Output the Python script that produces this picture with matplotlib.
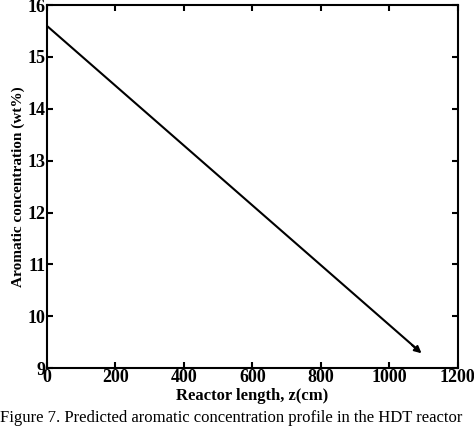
import matplotlib
matplotlib.use("Agg")
import matplotlib.pyplot as plt

# reactor length (cm) and aromatic concentration (wt%)
z = [0, 1100]
aromatic = [15.6, 9.25]
x_ticks = [0, 200, 400, 600, 800, 1000, 1200]
y_ticks = [9, 10, 11, 12, 13, 14, 15, 16]

plt.rcParams['font.family'] = ['Liberation Serif', 'DejaVu Serif']

fig = plt.figure(figsize=(4.74, 4.28), dpi=100)
ax = fig.add_axes([0.099, 0.140, 0.867, 0.848])

ax.plot(z[:1] + [z[1] - 15], [aromatic[0], aromatic[1] + 0.09], color="black", lw=1.5)
ax.annotate("", xy=(z[1], aromatic[1]), xytext=(z[1] - 40, aromatic[1] + 0.23),
            arrowprops=dict(arrowstyle="-|>", color="black", lw=1.5, mutation_scale=10))

ax.set_xlim(0, 1200)
ax.set_ylim(9, 16)
ax.set_xticks(x_ticks)
ax.set_yticks(y_ticks)
ax.tick_params(direction="in", top=True, right=True, length=4, width=1.5, labelsize=13, pad=1)
for lab in ax.get_xticklabels() + ax.get_yticklabels():
    lab.set_fontweight("bold")
for s in ax.spines.values():
    s.set_linewidth(1.5)

ax.set_xlabel("Reactor length, z(cm)", fontsize=12, fontweight="bold", labelpad=1)
ax.set_ylabel("Aromatic concentration (wt%)", fontsize=11, fontweight="bold", labelpad=2)

fig.text(0.0, 0.004, "Figure 7. Predicted aromatic concentration profile in the HDT reactor",
         fontsize=12, va="bottom", ha="left")

fig.savefig("out.png", dpi=100)
